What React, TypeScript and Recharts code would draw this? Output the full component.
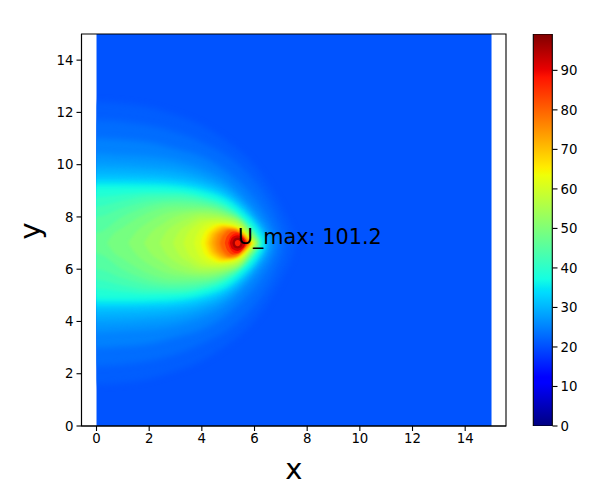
import { Area, Bar, BarChart, ComposedChart, Label, ReferenceArea, ReferenceDot, XAxis, YAxis } from "recharts";

// each contour: [x, half height around the jet centreline]
const centreY = 7;
const c21 = [[0, 5.4], [1, 5.35], [2, 5.2], [3, 4.9], [4, 4.5], [5, 3.85], [6, 2.95], [6.6, 2.1], [7.1, 1.2], [7.4, 0.55], [7.55, 0]];
const c23 = [[0, 4.7], [1, 4.65], [2, 4.5], [3, 4.25], [4, 3.85], [5, 3.3], [6, 2.35], [6.5, 1.65], [6.9, 0.85], [7.1, 0.3], [7.15, 0]];
const c25 = [[0, 4], [1, 3.95], [2, 3.85], [3, 3.6], [4, 3.3], [5, 2.7], [5.8, 1.95], [6.3, 1.3], [6.7, 0.6], [6.85, 0.22], [6.9, 0]];
const c27 = [[0, 3.4], [1, 3.35], [2, 3.3], [3, 3.15], [4, 2.85], [5, 2.3], [5.7, 1.6], [6.2, 1], [6.5, 0.55], [6.66, 0.2], [6.7, 0]];
const c29 = [[0, 3], [1, 2.98], [2, 2.92], [3, 2.82], [4, 2.55], [5, 2.05], [5.6, 1.5], [6.1, 0.9], [6.4, 0.45], [6.52, 0.15], [6.55, 0]];
const c31 = [[0, 2.7], [1, 2.68], [2, 2.64], [3, 2.55], [4, 2.33], [5, 1.88], [5.6, 1.35], [6.05, 0.8], [6.32, 0.38], [6.42, 0.13], [6.45, 0]];
const c33 = [[0, 2.45], [1, 2.44], [2, 2.42], [3, 2.35], [4, 2.17], [5, 1.72], [5.6, 1.2], [6, 0.72], [6.25, 0.36], [6.35, 0.12], [6.38, 0]];
const c35 = [[0, 2.3], [1, 2.3], [2, 2.28], [3, 2.22], [4, 2.03], [5, 1.62], [5.6, 1.12], [5.95, 0.72], [6.2, 0.32], [6.3, 0.1], [6.33, 0]];
const c37 = [[0, 2.2], [1, 2.2], [2, 2.18], [3, 2.12], [4, 1.94], [5, 1.54], [5.55, 1.08], [5.93, 0.68], [6.17, 0.3], [6.27, 0.1], [6.3, 0]];
const c39 = [[0, 2.05], [1, 2.06], [2, 2.06], [3, 2.02], [4, 1.85], [5, 1.46], [5.5, 1.06], [5.9, 0.64], [6.14, 0.28], [6.24, 0.1], [6.27, 0]];
const c41 = [[0, 1.75], [1, 1.85], [2, 1.92], [3, 1.92], [4, 1.76], [5, 1.38], [5.5, 1], [5.88, 0.6], [6.11, 0.27], [6.21, 0.09], [6.24, 0]];
const c43 = [[0, 1.4], [1, 1.62], [2, 1.78], [3, 1.8], [4, 1.67], [5, 1.3], [5.5, 0.95], [5.85, 0.57], [6.08, 0.26], [6.18, 0.08], [6.21, 0]];
const c45 = [[0, 1], [1, 1.35], [2, 1.6], [3, 1.68], [4, 1.58], [5, 1.24], [5.5, 0.9], [5.83, 0.54], [6.05, 0.25], [6.15, 0.08], [6.18, 0]];
const c47 = [[0, 0.4], [1, 1.02], [2, 1.42], [3, 1.55], [4, 1.48], [5, 1.17], [5.5, 0.86], [5.8, 0.52], [6.02, 0.24], [6.12, 0.07], [6.15, 0]];
const c49 = [[0.4, 0], [0.6, 0.3], [1, 0.6], [2, 1.18], [3, 1.4], [4, 1.38], [5, 1.12], [5.5, 0.83], [5.78, 0.5], [6, 0.22], [6.09, 0.07], [6.12, 0]];
const c51 = [[1.2, 0], [1.4, 0.3], [2, 0.82], [3, 1.22], [4, 1.28], [5, 1.06], [5.5, 0.79], [5.76, 0.48], [5.97, 0.2], [6.07, 0.06], [6.1, 0]];
const c53 = [[1.8, 0], [2, 0.32], [2.5, 0.72], [3, 1.02], [4, 1.18], [5, 1], [5.5, 0.75], [5.74, 0.46], [5.95, 0.19], [6.04, 0.05], [6.07, 0]];
const c55 = [[2.4, 0], [2.6, 0.36], [3, 0.72], [3.5, 0.95], [4, 1.08], [5, 0.95], [5.5, 0.7], [5.72, 0.44], [5.92, 0.17], [6.01, 0.05], [6.04, 0]];
const c57 = [[2.9, 0], [3.05, 0.32], [3.5, 0.72], [4, 0.95], [4.5, 0.95], [5, 0.88], [5.5, 0.65], [5.7, 0.42], [5.9, 0.16], [5.99, 0.04], [6.02, 0]];
const c59 = [[3.3, 0], [3.45, 0.36], [3.7, 0.62], [4, 0.82], [4.5, 0.88], [5, 0.82], [5.5, 0.6], [5.7, 0.38], [5.88, 0.15], [5.97, 0.04], [6, 0]];
const c61 = [[3.7, 0], [3.8, 0.3], [4, 0.6], [4.4, 0.78], [5, 0.76], [5.5, 0.56], [5.68, 0.35], [5.85, 0.14], [5.94, 0.04], [5.97, 0]];
const c64 = [[3.95, 0], [4.05, 0.32], [4.3, 0.6], [4.7, 0.74], [5.2, 0.66], [5.5, 0.5], [5.7, 0.3], [5.83, 0.13], [5.93, 0]];
const c67 = [[4.12, 0], [4.2, 0.26], [4.4, 0.52], [4.8, 0.68], [5.2, 0.62], [5.5, 0.46], [5.7, 0.27], [5.82, 0.1], [5.9, 0]];
const c70 = [[4.25, 0], [4.33, 0.26], [4.5, 0.47], [4.85, 0.62], [5.2, 0.58], [5.5, 0.42], [5.68, 0.24], [5.8, 0.09], [5.87, 0]];
const c73 = [[4.38, 0], [4.45, 0.24], [4.62, 0.44], [4.9, 0.57], [5.2, 0.55], [5.5, 0.38], [5.66, 0.22], [5.78, 0.08], [5.84, 0]];
const c76 = [[4.52, 0], [4.58, 0.22], [4.72, 0.4], [5, 0.53], [5.25, 0.51], [5.5, 0.35], [5.65, 0.2], [5.75, 0.07], [5.81, 0]];
const c80 = [[4.68, 0], [4.74, 0.2], [4.85, 0.36], [5.05, 0.5], [5.3, 0.47], [5.5, 0.32], [5.65, 0.16], [5.79, 0]];
const c84 = [[4.87, 0], [4.92, 0.18], [5.02, 0.34], [5.2, 0.44], [5.4, 0.4], [5.6, 0.22], [5.76, 0]];
const c88 = [[5, 0], [5.04, 0.14], [5.12, 0.28], [5.3, 0.38], [5.45, 0.33], [5.62, 0.14], [5.72, 0]];
const c92 = [[5.06, 0], [5.1, 0.13], [5.18, 0.24], [5.35, 0.3], [5.52, 0.22], [5.62, 0.1], [5.66, 0]];
const c96 = [[5.16, 0], [5.19, 0.1], [5.26, 0.18], [5.36, 0.21], [5.46, 0.18], [5.53, 0.1], [5.56, 0]];
const spot = [[5.25, 0], [5.28, 0.08], [5.36, 0.12], [5.44, 0.08], [5.47, 0]];

const contours: [number, number[][]][] = [
  [21.5, c21], [23, c23], [25, c25], [27, c27], [29, c29], [31, c31], [33, c33], [35, c35],
  [37, c37], [39, c39], [41, c41], [43, c43], [45, c45], [47, c47], [49, c49], [51, c51], [53, c53],
  [55, c55], [57, c57], [59, c59], [61, c61], [64, c64], [67, c67], [70, c70], [73, c73], [76, c76],
  [80, c80], [84, c84], [88, c88], [92, c92], [96, c96], [87, spot],
];

const baseLevel = 20.5;
const baseRows = [{ x: 0, range: [0, 15] }, { x: 15, range: [0, 15] }];

const xTicks = [0, 2, 4, 6, 8, 10, 12, 14];
const yTicks = [0, 2, 4, 6, 8, 10, 12, 14];
const barTicks = [0, 10, 20, 30, 40, 50, 60, 70, 80, 90];
const barMax = 99.2;
const barData = [{ name: "U", top: barMax }];

// matplotlib jet segments
const jetR = [[0, 0], [0.35, 0], [0.66, 1], [0.89, 1], [1, 0.5]];
const jetG = [[0, 0], [0.125, 0], [0.375, 1], [0.64, 1], [0.91, 0], [1, 0]];
const jetB = [[0, 0.5], [0.11, 1], [0.34, 1], [0.65, 0], [1, 0]];
const jetStops = [0, 0.11, 0.125, 0.34, 0.35, 0.375, 0.64, 0.65, 0.66, 0.89, 0.91, 1];

const seg = (s: number[][], t: number) => {
  for (let i = 1; i < s.length; i++) {
    if (t <= s[i][0]) {
      const k = (t - s[i - 1][0]) / (s[i][0] - s[i - 1][0]);
      return s[i - 1][1] + k * (s[i][1] - s[i - 1][1]);
    }
  }
  return s[s.length - 1][1];
};
const jet = (t: number) =>
  `rgb(${Math.round(seg(jetR, t) * 255)},${Math.round(seg(jetG, t) * 255)},${Math.round(seg(jetB, t) * 255)})`;

// contours that touch the inlet run a little past x=0 so the blur does not fade at the clip edge
const toArea = (rows: number[][]) => {
  const full = rows[0][0] === 0 ? [[-0.4, rows[0][1]], ...rows] : rows;
  return full.map(([x, h]) => ({ x, range: [centreY - h, centreY + h] }));
};
const softness = (level: number) => (level < 40 ? 3 : level < 64 ? 1.8 : level < 84 ? 0.8 : 0.4);

const font = "'DejaVu Sans', sans-serif";
const tick = { fontSize: 13.3, fill: "#000", fontFamily: font };
const axisLine = { stroke: "#000", strokeWidth: 1.1 };

const MaxLabel = ({ viewBox }: any) => (
  <text x={viewBox.x} y={viewBox.y + 1} fontSize={20.8} fontFamily={font} fill="#000">
    U_max: 101.2
  </text>
);
const XName = ({ viewBox }: any) => (
  <text x={viewBox.x + viewBox.width / 2} y={479} textAnchor="middle" fontSize={29} fontFamily={font} fill="#000">
    x
  </text>
);
const YName = ({ viewBox }: any) => {
  const cy = viewBox.y + viewBox.height / 2 + 1;
  return (
    <text x={40} y={cy} transform={`rotate(-90 40 ${cy})`} textAnchor="middle" fontSize={29} fontFamily={font} fill="#000">
      y
    </text>
  );
};

export default function App() {
  return (
    <div style={{ position: "absolute", left: 0, top: 0, width: 608, height: 480, background: "#fff", overflow: "hidden" }}>
      <div style={{ position: "absolute", left: 0, top: 0 }}>
        <ComposedChart width={520} height={480} margin={{ top: 34, right: 14, bottom: 24, left: 41.5 }}>
          <defs>
            <clipPath id="heatClip" clipPathUnits="userSpaceOnUse">
              <rect x={96.5} y={34} width={396} height={392} />
            </clipPath>
          </defs>
          <XAxis
            dataKey="x"
            type="number"
            domain={[-0.57, 15.55]}
            ticks={xTicks}
            allowDataOverflow
            height={30}
            tick={tick}
            tickSize={5}
            tickMargin={3}
            axisLine={axisLine}
            tickLine={axisLine}
          >
            <Label content={<XName />} />
          </XAxis>
          <YAxis
            type="number"
            domain={[0, 15]}
            ticks={yTicks}
            allowDataOverflow
            width={40}
            tick={tick}
            tickSize={5}
            tickMargin={3}
            axisLine={axisLine}
            tickLine={axisLine}
          >
            <Label content={<YName />} />
          </YAxis>
          <Area
            data={baseRows}
            dataKey="range"
            type="linear"
            fill={jet(baseLevel / barMax)}
            fillOpacity={1}
            stroke="none"
            dot={false}
            activeDot={false}
            isAnimationActive={false}
          />
          {contours.map(([level, rows], i) => (
            <Area
              key={i}
              data={toArea(rows)}
              dataKey="range"
              type="monotone"
              fill={jet(level / barMax)}
              fillOpacity={1}
              stroke="none"
              dot={false}
              activeDot={false}
              isAnimationActive={false}
              style={{ filter: `blur(${softness(level)}px)`, clipPath: "url(#heatClip)" }}
            />
          ))}
          <ReferenceArea x1={-0.57} x2={15.55} y1={0} y2={15} fill="none" stroke="#000" strokeWidth={1.1} />
          <ReferenceDot x={5.36} y={7} r={0} fill="none" stroke="none" label={<MaxLabel />} />
        </ComposedChart>
      </div>
      <div style={{ position: "absolute", left: 520, top: 0 }}>
        <BarChart width={88} height={480} data={barData} margin={{ top: 34, right: 0, bottom: 54, left: 13.3 }} barCategoryGap={0}>
          <defs>
            <linearGradient id="jetBar" x1="0" y1="1" x2="0" y2="0">
              {jetStops.map((t) => (
                <stop key={t} offset={t} stopColor={jet(t)} />
              ))}
            </linearGradient>
          </defs>
          <XAxis dataKey="name" hide />
          <YAxis
            orientation="right"
            type="number"
            domain={[0, barMax]}
            ticks={barTicks}
            allowDataOverflow
            width={55.5}
            tick={tick}
            tickSize={5}
            tickMargin={3}
            axisLine={false}
            tickLine={axisLine}
          />
          <Bar dataKey="top" fill="url(#jetBar)" stroke="#000" strokeWidth={1.1} isAnimationActive={false} />
        </BarChart>
      </div>
    </div>
  );
}
